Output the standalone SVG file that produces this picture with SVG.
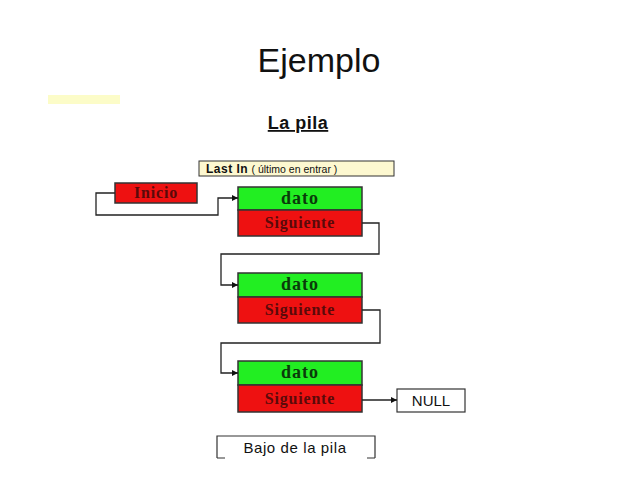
<svg xmlns="http://www.w3.org/2000/svg" width="638" height="479" viewBox="0 0 638 479">
<style>
.g{fill:#22ee22;stroke:#333;stroke-width:1.5}
.r{fill:#ee1111;stroke:#333;stroke-width:1.5}
.dt{font-family:"Liberation Serif",serif;font-weight:bold;font-size:18px;letter-spacing:1px;fill:#0a3a0a;text-anchor:middle}
.st{font-family:"Liberation Serif",serif;font-weight:bold;font-size:16px;letter-spacing:0.8px;fill:#5a0a0a;text-anchor:middle}
.c{fill:none;stroke:#222;stroke-width:1.3}
.s{font-family:"Liberation Sans",sans-serif}
</style>
<defs><marker id="a" viewBox="0 0 10 10" refX="10" refY="5" markerWidth="8" markerHeight="6" orient="auto" markerUnits="userSpaceOnUse"><path d="M0,0L10,5L0,10z" fill="#111"/></marker></defs>
<rect width="638" height="479" fill="#fff"/>
<text x="319" y="72" class="s" font-size="34" text-anchor="middle" fill="#111">Ejemplo</text>
<rect x="48" y="95" width="72" height="9" fill="#fcfcc8"/>
<text x="298" y="129" class="s" font-size="18" font-weight="bold" text-anchor="middle" fill="#111" text-decoration="underline" letter-spacing="0.5">La pila</text>
<g id="lastin"><rect x="199" y="161" width="195" height="15" fill="#fdf8d0" stroke="#333"/>
<text x="206" y="173" class="s" font-size="12" fill="#111"><tspan font-weight="bold" letter-spacing="0.5">Last In</tspan> <tspan font-size="10.5">( último en entrar )</tspan></text></g>
<g id="inicio"><rect x="115" y="183" width="82" height="20" class="r"/><text x="156" y="198" class="st">Inicio</text></g>
<g id="nodo1"><rect x="238" y="187" width="124" height="23" class="g"/><text x="300" y="204" class="dt">dato</text>
<rect x="238" y="210" width="124" height="26" class="r"/><text x="300" y="228" class="st">Siguiente</text></g>
<g id="nodo2"><rect x="238" y="273" width="124" height="24" class="g"/><text x="300" y="290" class="dt">dato</text>
<rect x="238" y="297" width="124" height="26" class="r"/><text x="300" y="315" class="st">Siguiente</text></g>
<g id="nodo3"><rect x="238" y="361" width="124" height="24" class="g"/><text x="300" y="378" class="dt">dato</text>
<rect x="238" y="385" width="124" height="27" class="r"/><text x="300" y="404" class="st">Siguiente</text></g>
<g id="null"><rect x="397" y="389" width="68" height="23" fill="#fff" stroke="#333" stroke-width="1.2"/><text x="431" y="406" class="s" font-size="15" text-anchor="middle" fill="#111">NULL</text></g>
<g id="bajo"><path d="M217,458V436H375V458M217,458H225M375,458H367" fill="none" stroke="#333" stroke-width="1.2"/>
<text x="295" y="453" class="s" font-size="15" letter-spacing="0.6" text-anchor="middle" fill="#111">Bajo de la pila</text></g>
<g id="connectors">
<path class="c" d="M115,193H96V215H218V198H238" marker-end="url(#a)"/>
<path class="c" d="M362,223H379V254H221V285H238" marker-end="url(#a)"/>
<path class="c" d="M362,310H380V343H221V373H238" marker-end="url(#a)"/>
<path class="c" d="M362,400H397" marker-end="url(#a)"/>
</g>
</svg>
